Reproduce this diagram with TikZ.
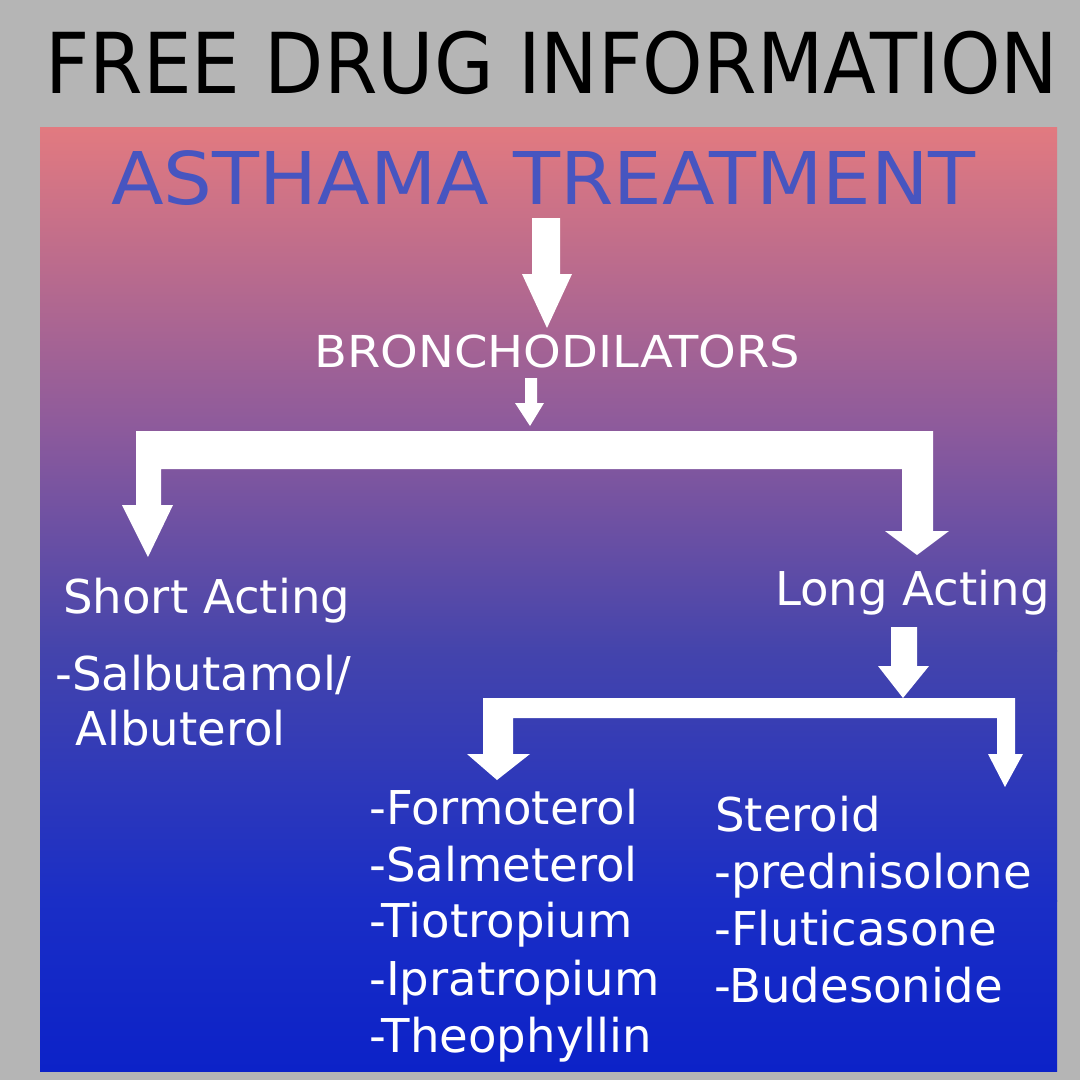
\documentclass[tikz,border=0pt]{standalone}
\usepackage{fontspec}
\setmainfont{DejaVu Sans}
\definecolor{bggray}{HTML}{B5B5B5}
\definecolor{gA}{HTML}{E27A80}
\definecolor{gB}{HTML}{8C5A9C}
\definecolor{gC}{HTML}{4444AC}
\definecolor{gD}{HTML}{1A2EC6}
\definecolor{gE}{HTML}{0C22C8}
\definecolor{titleblue}{HTML}{4755C0}
\begin{document}
\begin{tikzpicture}[x=1pt,y=-1pt,
  txt/.style={inner sep=0pt,anchor=base west,text=white,font=\fontsize{46.6}{54}\selectfont},
  blk/.style={fill=white,draw=none}]
\fill[bggray] (0,0) rectangle (1080,1080);
\useasboundingbox (0,0) rectangle (1080,1080);
% gradient panel
\shade[top color=gA,bottom color=gB] (40,127) rectangle (1057,431);
\shade[top color=gB,bottom color=gC] (40,430) rectangle (1057,651);
\shade[top color=gC,bottom color=gD] (40,650) rectangle (1057,901);
\shade[top color=gD,bottom color=gE] (40,900) rectangle (1057,1071);
% texts
\node[inner sep=0pt,anchor=base west,font=\fontsize{84}{90}\selectfont] (title) at (45,93) {\scalebox{0.917}[1]{FREE DRUG INFORMATION}};
\node[inner sep=0pt,anchor=base west,text=titleblue,font=\fontsize{72.7}{80}\selectfont] (main) at (111,204) {\scalebox{1.058}[1]{ASTHAMA TREATMENT}};
\node[txt,font=\fontsize{44}{50}\selectfont] (bronch) at (314,367) {\scalebox{1.09}[1]{BRONCHODILATORS}};
\node[txt] (short) at (63,613) {Short Acting};
\node[txt] (salb) at (55,690) {-Salbutamol/};
\node[txt] (albu) at (75,745) {Albuterol};
\node[txt] (long) at (775,605) {Long Acting};
\node[txt] (f1) at (369,824) {-Formoterol};
\node[txt] (f2) at (369,881) {-Salmeterol};
\node[txt] (f3) at (369,937) {-Tiotropium};
\node[txt] (f4) at (369,995) {-Ipratropium};
\node[txt] (f5) at (369,1052) {-Theophyllin};
\node[txt] (s0) at (715,831) {Steroid};
\node[txt] (s1) at (714,888) {-prednisolone};
\node[txt] (s2) at (714,945) {-Fluticasone};
\node[txt] (s3) at (714,1002) {-Budesonide};
% block arrows
\fill[blk] (532,218) -- (560,218) -- (560,274) -- (572,274) -- (547,328) -- (522,274) -- (532,274) -- cycle;
\fill[blk] (525,378) -- (537,378) -- (537,403) -- (544,403) -- (530,426) -- (515,403) -- (525,403) -- cycle;
\fill[blk] (136,431) -- (933,431) -- (933,531) -- (949,531) -- (917,555) -- (885,531) -- (902,531) -- (902,469) -- (161,469) -- (161,505) -- (173,505) -- (148,557) -- (122,505) -- (136,505) -- cycle;
\fill[blk] (891,627) -- (917,627) -- (917,666) -- (929,666) -- (903,698) -- (878,666) -- (891,666) -- cycle;
\fill[blk] (483,698) -- (1015,698) -- (1015,754) -- (1023,754) -- (1005,787) -- (988,754) -- (997,754) -- (997,718) -- (513,718) -- (513,754) -- (530,754) -- (497,780) -- (467,754) -- (483,754) -- cycle;
\end{tikzpicture}
\end{document}
